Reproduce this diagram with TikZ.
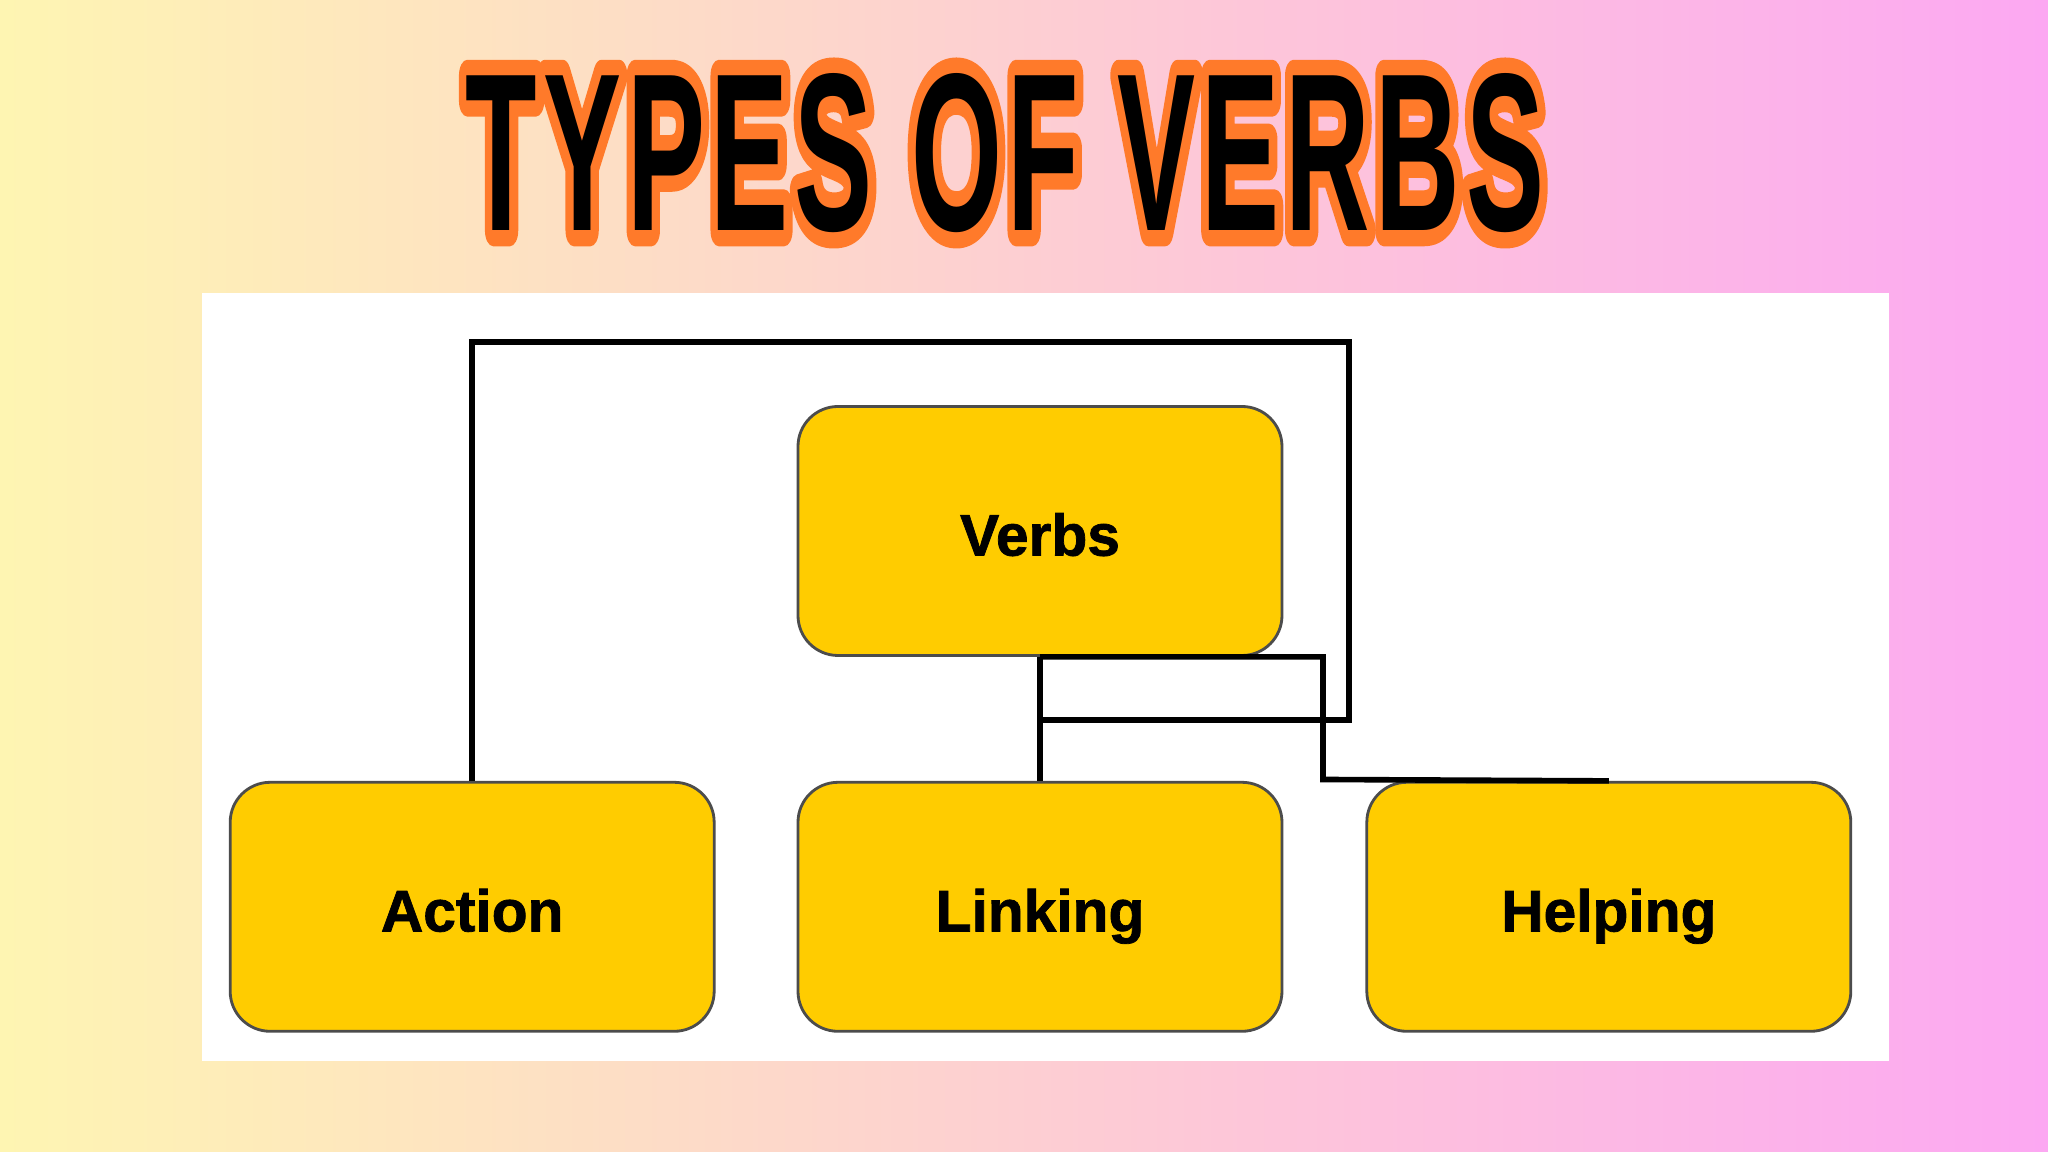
\documentclass[tikz,border=0pt]{standalone}
\usepackage{fontspec}
\setmainfont{Liberation Sans}
\newfontfamily\titrefont{Liberation Sans}[LetterSpace=5]
\newfontfamily\boitefont{Liberation Sans}[BoldFeatures={FakeBold=1.3}]
\usetikzlibrary{positioning}
\definecolor{fondg}{HTML}{FEF5B2}
\definecolor{fondm}{HTML}{FDD3CC}
\definecolor{fondd}{HTML}{FCA8F2}
\definecolor{jaune}{HTML}{FFCC00}
\definecolor{orange}{HTML}{FF7A2A}
% trait du texte : 2 = remplir et contourner, 0 = remplir
\newcommand{\traittitre}[2]{\special{pdf:literal direct #1 Tr 9 w 1 j 1 0.478 0.165 RG}#2\special{pdf:literal direct 0 Tr}}
\begin{document}
\begin{tikzpicture}[very thick]
    \tikzset{boite/.style={draw=black!70, line width=0.8pt, fill=jaune, rounded corners=0.4cm,
        minimum width=4.84cm, minimum height=2.49cm, text height=14pt, text depth=0pt,
        font=\boitefont\fontsize{16.7}{20}\selectfont\bfseries}}
    \tikzset{lien/.style={black, line width=1.6pt}}
    \tikzset{titre/.style={xscale=0.52, inner sep=0pt, font=\titrefont\fontsize{64}{64}\selectfont\bfseries}}
    \useasboundingbox (0,0) rectangle (20.48,11.52);
    \shade[left color=fondg, middle color=fondm, right color=fondd] (0,0) rectangle (20.48,11.52);
    \fill[white] (2.02,0.91) rectangle (18.89,8.59);
    \node[titre, text=orange] (ombre) at (10.05,9.99) {\traittitre{2}{TYPES OF VERBS}};
    \node[titre] (titre) at (10.05,9.99) {\traittitre{0}{TYPES OF VERBS}};
    \node[boite] (V) at (10.40, 6.21) {Verbs};
    \node[boite, below=1.24cm of V] (L) {Linking};
    \node[boite, left=0.81cm of L] (A) {Action};
    \node[boite, right=0.82cm of L] (H) {Helping};
    \coordinate (haut) at (13.49, 8.10);
    \coordinate (milieu) at (10.40, 4.32);
    \coordinate (coude) at (13.23, 3.725);
    \draw[lien] (V) -- (L);
    \draw[lien] (A.north) |- (haut) |- (milieu);
    \draw[lien] (V.south) -| (coude) -- (H.north);
  \end{tikzpicture}
\end{document}
